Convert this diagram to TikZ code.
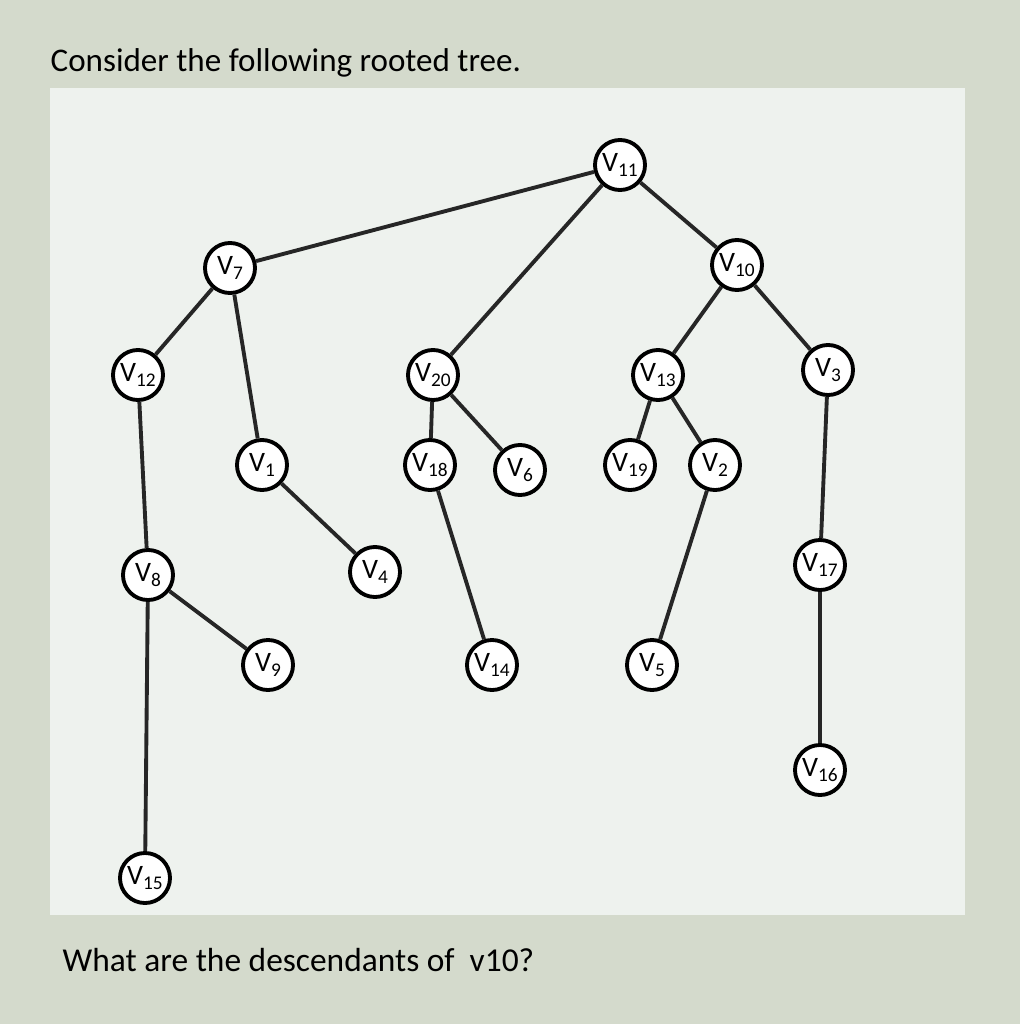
\documentclass[tikz,border=0pt]{standalone}
\usepackage{fontspec}
\setmainfont{Carlito}
\newcommand{\sbs}[1]{\raisebox{-0.35ex}{\fontsize{5.5}{5.5}\selectfont #1}}
\begin{document}
\begin{tikzpicture}[x=0.01cm,y=-0.01cm,
  vx/.style={circle,draw=black,line width=1.1pt,fill=white,minimum size=0.5cm,inner sep=0pt,font=\fontsize{8}{8}\selectfont},
  ed/.style={line width=1.1pt,black!85}]
\fill[fill={rgb,255:red,212;green,218;blue,204}] (0,0) rectangle (1020,1024);
\fill[fill={rgb,255:red,238;green,242;blue,238}] (50,88) rectangle (965,915);
\useasboundingbox (0,0) rectangle (1020,1024);
\node[anchor=west,font=\fontsize{9.4}{9.4}\selectfont,inner sep=0pt] (t1) at (50,63) {Consider the following rooted tree.};
\node[anchor=west,font=\fontsize{9.5}{9.5}\selectfont,inner sep=0pt] (t2) at (62,960) {What are the descendants of \ v10?};
\foreach \n/\x/\y in {11/620/165,7/230/268,10/737/265,12/138/375,20/433/375,13/658/375,3/828/370,1/262/465,18/430/465,6/520/470,19/630/465,2/715/465,8/148/575,4/375/572,17/820/565,9/268/665,14/492/665,5/652/665,16/820/770,15/145/878}
  \node[vx] (v\n) at (\x,\y) {V\sbs{\n}};
\foreach \a/\b in {11/7,11/20,11/10,7/12,7/1,12/8,8/9,8/15,1/4,20/18,20/6,18/14,10/13,10/3,13/19,13/2,2/5,3/17,17/16}
  \draw[ed] (v\a) -- (v\b);
\end{tikzpicture}
\end{document}
